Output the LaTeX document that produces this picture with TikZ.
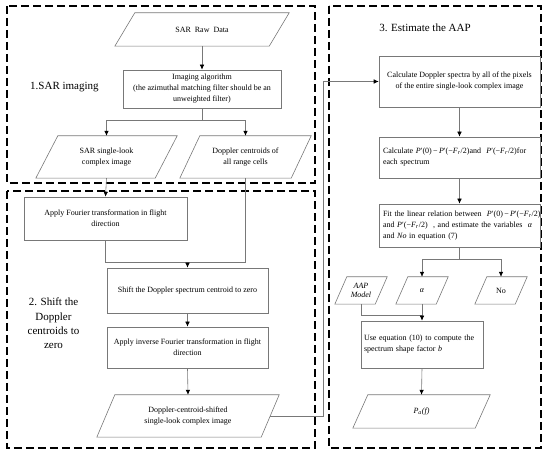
\documentclass[tikz,border=0pt]{standalone}
\usepackage{fontspec}
\setmainfont{Liberation Serif}
\usetikzlibrary{arrows.meta}
\definecolor{ln}{RGB}{120,120,120}
\tikzset{
  box/.style={draw=ln, line width=0.6pt, rectangle, inner sep=2pt, align=center, font=\fontsize{8}{11}\selectfont},
  ptext/.style={rectangle, inner sep=1pt, align=center, font=\fontsize{8}{11}\selectfont},
  pline/.style={draw=ln, line width=0.6pt},
  conn/.style={draw=ln, line width=0.6pt},
  arr/.style={draw=ln, line width=0.6pt, -{Latex[color=black,length=5pt,width=4.5pt]}},
  group/.style={draw=black, line width=1.3pt, dash pattern=on 8pt off 4pt},
  lab/.style={font=\fontsize{11}{14.3}\selectfont, align=center, inner sep=0pt}
}
\newcommand\Fr{\textit{F}\textsubscript{\textit{r}}}
\newcommand\PA{\textit{P}′(0)\,−\,\textit{P}′(−\Fr/2)}
\newcommand\PB{\textit{P}′(−\Fr/2)}
% name, x, y, width, height, skew, text
\newcommand\parnode[7]{%
  \node[ptext, minimum width=#4pt, minimum height=#5pt] (#1) at (#2,#3) {#7};
  \draw[pline] ([xshift=#6/2]#1.north west) -- ([xshift=#6/2]#1.north east)
     -- ([xshift=-#6/2]#1.south east) -- ([xshift=-#6/2]#1.south west) -- cycle;
}
\begin{document}
\begin{tikzpicture}[x=1pt,y=-1pt]
\useasboundingbox (0,0) rectangle (550,457);
% group frames
\draw[group] (7,6) rectangle (315,183);
\draw[group] (7,191) rectangle (315,448);
\draw[group] (329,6) rectangle (541,448);
\node[lab, anchor=west] (l1) at (30,87) {1.SAR imaging};
\node[lab] (l2) at (53.5,323.5) {2. Shift the\\Doppler\\centroids to\\zero};
\node[lab] (l3) at (425,28) {3. Estimate the AAP};
% section 1
\parnode{raw}{202}{29.5}{154}{33}{20}{SAR\ \ Raw\ \ Data}
\node[box, minimum width=158pt, minimum height=38pt] (img) at (202,89)
  {Imaging algorithm\\(the azimuthal matching filter should be an\\unweighted filter)};
\parnode{sar}{106.5}{157}{119}{42}{22}{SAR single-look\\complex image}
\parnode{dopc}{245.5}{157}{111}{42}{20}{Doppler centroids of\\all range cells}
\coordinate (b1) at (202,120);
\draw[arr] (raw.south) -- (img.north);
\draw[conn] (img.south) -- (b1);
\draw[arr] (b1) -| (sar.north);
\draw[arr] (b1) -| (dopc.north);
% section 2
\node[box, minimum width=163pt, minimum height=43pt] (four) at (105.5,218.5)
  {Apply Fourier transformation in flight\\direction};
\node[box, minimum width=161pt, minimum height=45pt] (shift) at (187.5,290.5)
  {Shift the Doppler spectrum centroid to zero};
\node[box, minimum width=161pt, minimum height=41pt] (inv) at (187.5,347.5)
  {Apply inverse Fourier transformation in flight\\direction};
\parnode{dsh}{188}{416}{164}{42}{18}{Doppler-centroid-shifted\\single-look complex image}
\coordinate (m1) at (187.5,262);
\draw[arr] (sar.south) -- (four.north);
\draw[conn] (four.south) |- (m1);
\draw[conn] (dopc.south) |- (m1);
\draw[arr] (m1) -- (shift.north);
\draw[arr] (shift.south) -- (inv.north);
\draw[arr] (inv.south) -- (dsh.north);
% section 3
\node[box, minimum width=161pt, minimum height=51pt] (spec) at (459.5,81.5)
  {Calculate Doppler spectra by all of the pixels\\of the entire single-look complex image};
\node[box, minimum width=161pt, minimum height=41pt, text width=153pt, align=left, inner xsep=4pt] (calc) at (459.5,157.5)
  {\mbox{Calculate \PA and\ \ \PB for}\\each spectrum};
\node[box, minimum width=161pt, minimum height=43pt, text width=153pt, align=left, inner xsep=4pt] (fit) at (459.5,225.5)
  {\mbox{Fit the linear relation between\ \ \PA}\\\mbox{and \PB\ \ , and estimate the variables\ \ \textit{α}}\\and \textit{No} in equation (7)};
\parnode{aap}{361}{290.5}{40}{27}{12}{\textit{AAP}\\[-2pt]\textit{Model}}
\parnode{alp}{422}{290.5}{40}{27}{12}{\textit{α}}
\parnode{no}{501}{290.5}{40}{27}{12}{No}
\node[box, minimum width=122pt, minimum height=47pt, text width=116pt, align=left, inner xsep=3pt] (use) at (422,344.5)
  {Use equation (10) to compute the\\spectrum shape factor \textit{b}};
\parnode{pa}{421.5}{411.5}{122}{33}{15}{\textit{P\textsubscript{a}(f)}}
\coordinate (c1) at (323,416);
\draw[arr] (dsh.east) -- (c1) |- (spec.west);
\draw[arr] (spec.south) -- (calc.north);
\draw[arr] (calc.south) -- (fit.north);
\coordinate (b2) at (459.5,259);
\draw[conn] (fit.south) -- (b2);
\draw[arr] (b2) -| (alp.north);
\draw[arr] (b2) -| (no.north);
\coordinate (m2) at (422,315);
\draw[conn] (aap.south) |- (m2);
\draw[arr] (alp.south) -- (use.north);
\draw[arr] (use.south) -- (pa.north);
\end{tikzpicture}
\end{document}
